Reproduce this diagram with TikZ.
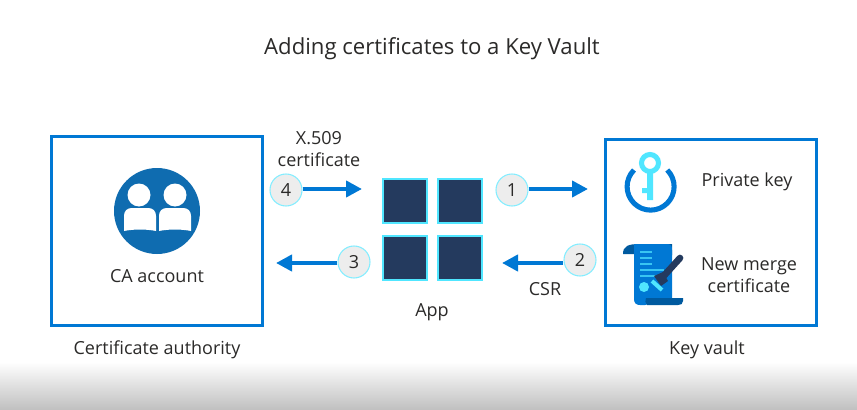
\documentclass[tikz,border=0pt]{standalone}
\usepackage{fontspec}
\setmainfont{Open Sans}
\usetikzlibrary{arrows.meta}
\definecolor{azure}{HTML}{0078D4}
\definecolor{cyanish}{HTML}{50E6FF}
\definecolor{navy}{HTML}{243A5E}
\definecolor{ink}{HTML}{2B2A29}
\definecolor{badge}{HTML}{EDEDED}
\definecolor{disc}{HTML}{0F6CB0}
\tikzset{
  lbl/.style={text=ink,font=\fontsize{13.5}{16.8}\selectfont,align=center,inner sep=0pt},
  panel/.style={draw=azure,line width=2.2pt,fill=white,minimum width=158pt,inner sep=0pt},
  tile/.style={draw=cyanish,line width=1.5pt,fill=navy,minimum size=33pt,inner sep=0pt},
  num/.style={circle,draw=cyanish!70!white,line width=.8pt,fill=badge,minimum size=24pt,inner sep=0pt,text=ink,font=\fontsize{13.5}{15}\selectfont},
  flow/.style={draw=azure,line width=3pt,-{Triangle[length=12pt,width=12pt]}}
}
\begin{document}
\begin{tikzpicture}[x=.75pt,y=-.75pt]
  \useasboundingbox (0,0) rectangle (857,410);
  \fill[white] (0,0) rectangle (857,410);
  \shade[top color=white,bottom color=black!25] (0,362) rectangle (857,410);

  \node (title) at (432,49) [lbl,font=\fontsize{16.6}{20}\selectfont] {Adding certificates to a Key Vault};

  \node (ca) at (157,231) [panel,minimum height=142pt] {};
  \node (kv) at (711,232.5) [panel,minimum height=140pt] {};
  \node (caname) at (157,350) [lbl] {Certificate authority};
  \node (kvname) at (707,350) [lbl] {Key vault};

  \fill[disc] (157,211) circle[radius=43];
  \fill[white] (139,195) circle[radius=11.5] (175,195) circle[radius=11.5];
  \fill[white] (124,231) -- (124,216) .. controls (124,211) and (127,208) .. (132,208) -- (148,208) .. controls (153,208) and (156,211) .. (156,216) -- (156,231) .. controls (146,229) and (134,229) .. (124,231) -- cycle;
  \fill[white] (159,231) -- (159,216) .. controls (159,211) and (162,208) .. (167,208) -- (183,208) .. controls (188,208) and (191,211) .. (191,216) -- (191,231) .. controls (181,229) and (169,229) .. (159,231) -- cycle;
  \node (caacc) at (157,276) [lbl] {CA account};

  \draw[azure,line width=3.8pt] (634,170) arc[start angle=-135,end angle=-405,radius=23.5];
  \fill[cyanish] (647,170) rectangle (653,200) (642,188) rectangle (648,193);
  \draw[cyanish,line width=3.8pt] (650,163) circle[radius=8.5];
  \node (pk) at (747,182) [lbl] {Private key};

  \fill[azure!75!black] (623,254) .. controls (623,246) and (628,244) .. (640,244) -- (672,244) -- (672,255) -- cycle;
  \fill[azure] (634,244) -- (667,244) .. controls (671,244) and (672,246) .. (672,250) -- (672,298) -- (645,305) -- (640,305) .. controls (636,305) and (634,303) .. (634,299) -- cycle;
  \fill[azure!75!black] (646,298) -- (683,298) -- (683,301) .. controls (683,304) and (681,305) .. (678,305) -- (647,305) .. controls (645,303) and (645,300) .. (646,298) -- cycle;
  \draw[cyanish!70!azure,line width=.8pt] (640,252) -- (652,252) (640,258) -- (652,258) (640,264) -- (652,264) (640,270) -- (664,270) (640,276) -- (656,276);
  \fill[cyanish] (644,287) circle[radius=5];
  \draw[navy,line width=5pt,line cap=round] (680,258) -- (661,279);
  \fill[navy] (654,276) -- (663,272) -- (668,281) -- (661,286) -- cycle;
  \draw[cyanish,line width=3pt] (652,281) -- (662,290);
  \node (nm) at (749,275) [lbl] {New merge\\certificate};

  \node (t1) at (404.5,200.5) [tile] {};
  \node (t2) at (460,200.5) [tile] {};
  \node (t3) at (404.5,257.5) [tile] {};
  \node (t4) at (460,257.5) [tile] {};
  \node (app) at (432,312) [lbl] {App};

  \node (x509) at (319,149) [lbl] {X.509\\certificate};
  \node (csr) at (545,289) [lbl] {CSR};

  \coordinate (e1) at (588,189);
  \coordinate (e2) at (502,263);
  \coordinate (e3) at (276,263);
  \coordinate (e4) at (362,189);
  \node (n1) at (512,190) [num] {1};
  \node (n2) at (580,260) [num] {2};
  \node (n3) at (354,262) [num] {3};
  \node (n4) at (286,190) [num] {4};
  \draw[flow] (n1.east |- e1) -- (e1);
  \draw[flow] (n2.west |- e2) -- (e2);
  \draw[flow] (n3.west |- e3) -- (e3);
  \draw[flow] (n4.east |- e4) -- (e4);
\end{tikzpicture}
\end{document}
